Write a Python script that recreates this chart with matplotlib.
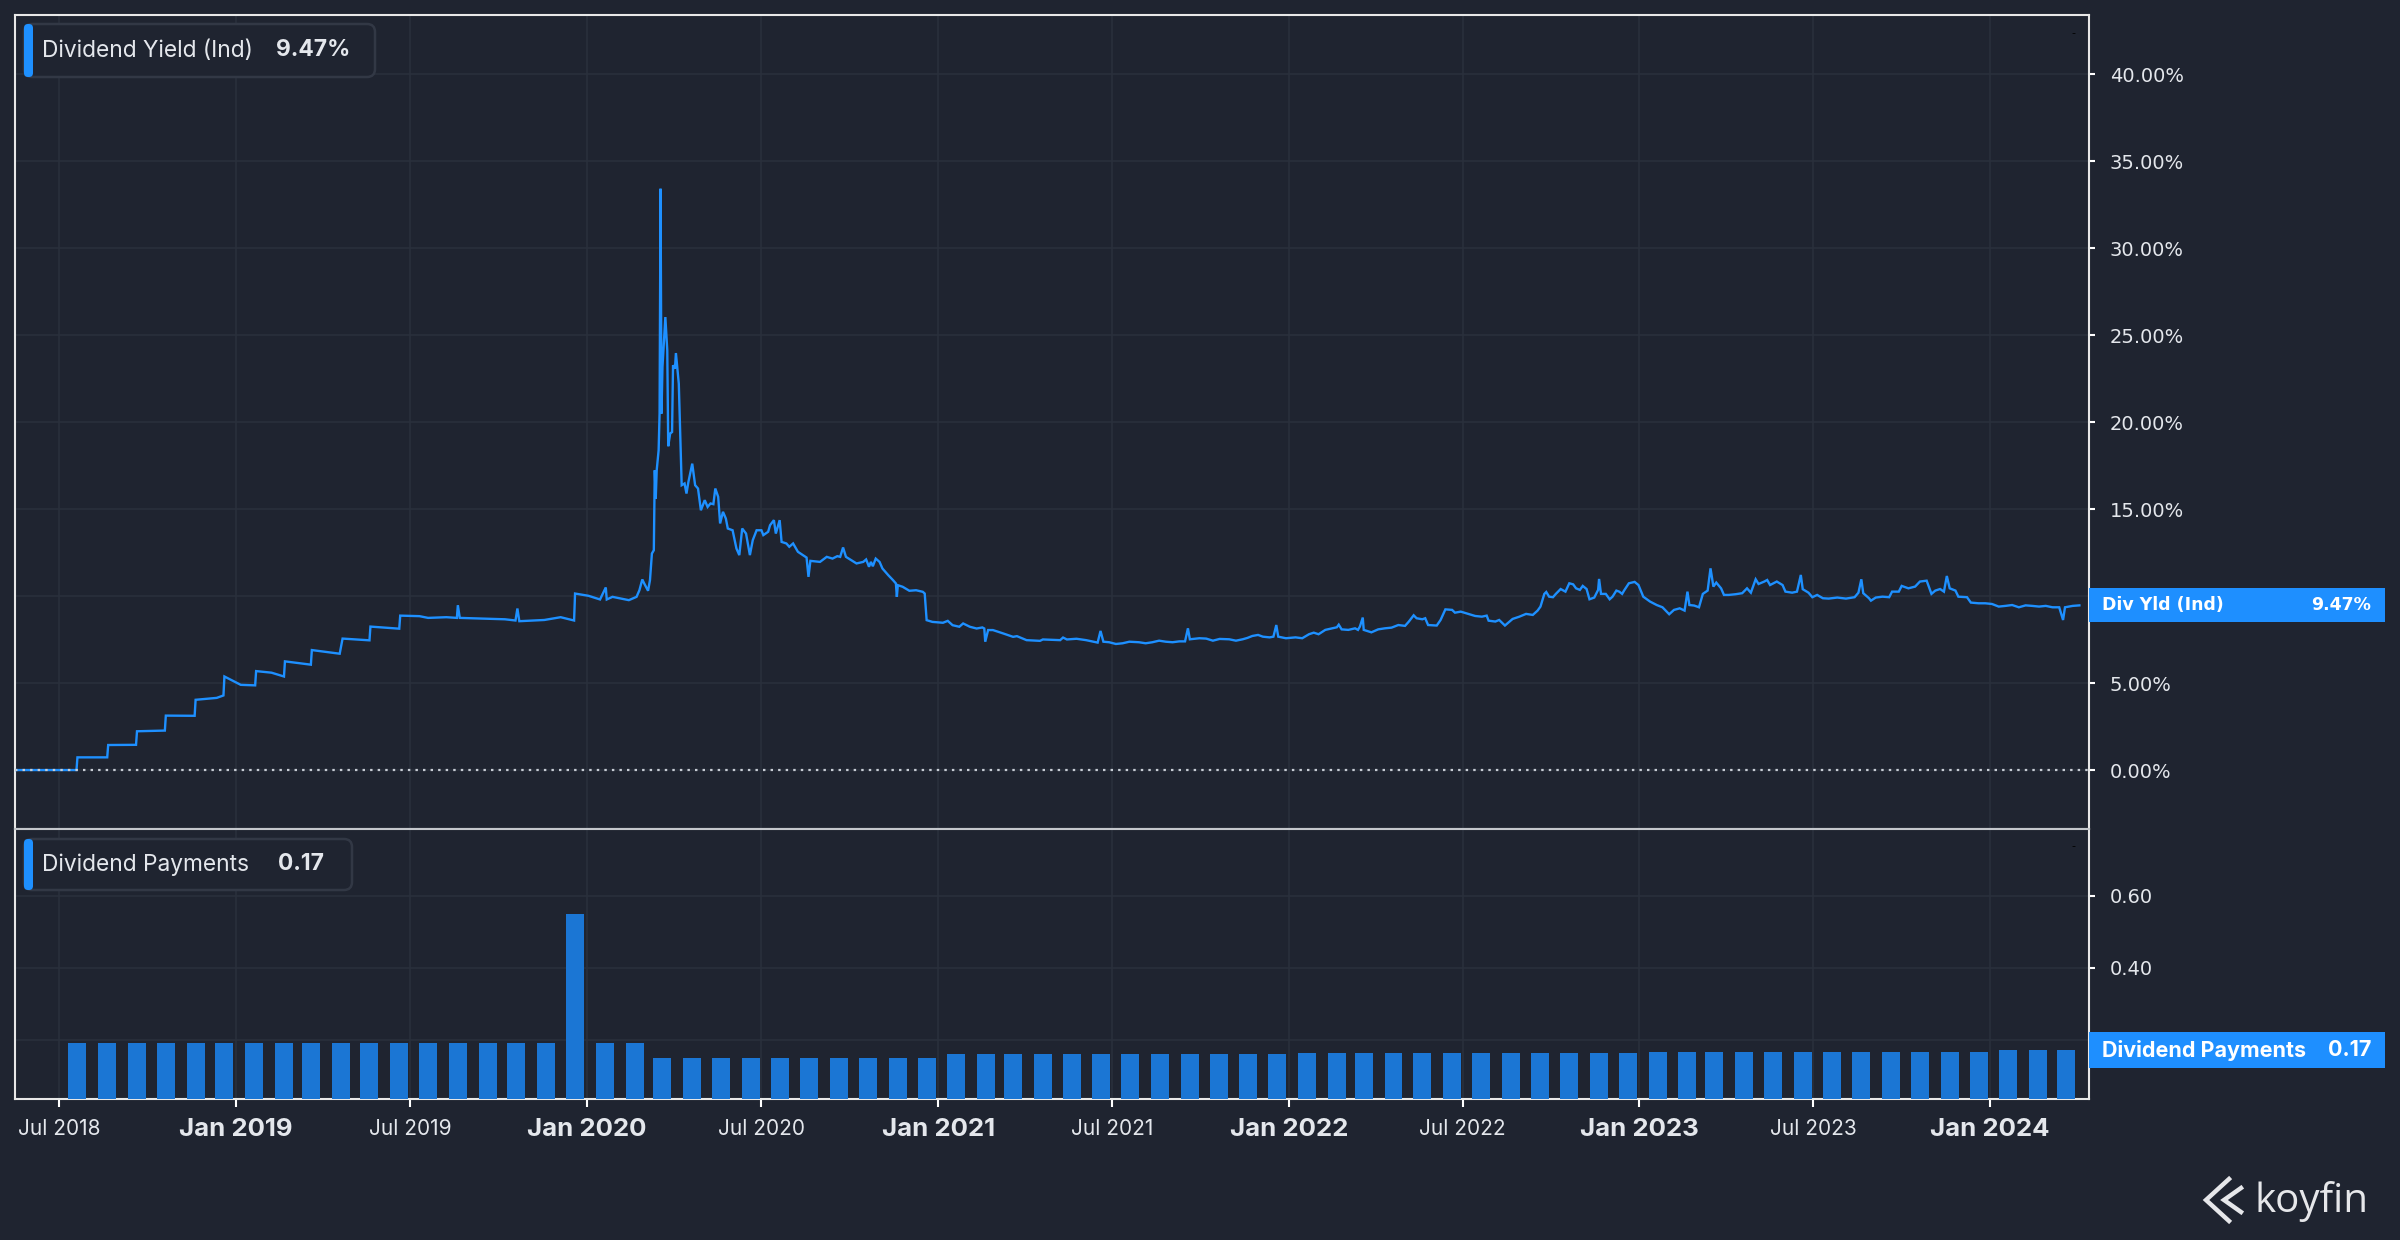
import matplotlib
matplotlib.use("Agg")
import matplotlib.pyplot as plt
import matplotlib.transforms as mtransforms
from matplotlib.patches import FancyBboxPatch, Rectangle
from matplotlib.lines import Line2D
import numpy as np
import pandas as pd

# ---------------- data ----------------
yield_dates = [
    '2018-05-16', '2018-07-19', '2018-07-20', '2018-08-20', '2018-08-21', '2018-09-19',
    '2018-09-20', '2018-10-19', '2018-10-20', '2018-11-19', '2018-11-20', '2018-12-12',
    '2018-12-19', '2018-12-20', '2019-01-06', '2019-01-21', '2019-01-22', '2019-02-07',
    '2019-02-20', '2019-02-21', '2019-03-20', '2019-03-21', '2019-04-19', '2019-04-22',
    '2019-05-20', '2019-05-21', '2019-06-20', '2019-06-21', '2019-07-11', '2019-07-20',
    '2019-08-08', '2019-08-19', '2019-08-20', '2019-08-22', '2019-09-14', '2019-10-08',
    '2019-10-19', '2019-10-21', '2019-10-23', '2019-11-18', '2019-12-05', '2019-12-19',
    '2019-12-20', '2020-01-03', '2020-01-15',
    '2020-01-21', '2020-01-22', '2020-01-28', '2020-02-14', '2020-02-22', '2020-02-25',
    '2020-02-28', '2020-03-01', '2020-03-05', '2020-03-07', '2020-03-08', '2020-03-09',
    '2020-03-11', '2020-03-12', '2020-03-13', '2020-03-14', '2020-03-16', '2020-03-17',
    '2020-03-18', '2020-03-19', '2020-03-20', '2020-03-23', '2020-03-25', '2020-03-26',
    '2020-03-28', '2020-03-30', '2020-03-31', '2020-04-02', '2020-04-03', '2020-04-06',
    '2020-04-09', '2020-04-12', '2020-04-14', '2020-04-16', '2020-04-20', '2020-04-23',
    '2020-04-26', '2020-04-29', '2020-05-03', '2020-05-06', '2020-05-09', '2020-05-12',
    '2020-05-14', '2020-05-17', '2020-05-19', '2020-05-22', '2020-05-25', '2020-05-27',
    '2020-06-01', '2020-06-05', '2020-06-08', '2020-06-11', '2020-06-15', '2020-06-19',
    '2020-06-22', '2020-06-26', '2020-07-01', '2020-07-03', '2020-07-08', '2020-07-10',
    '2020-07-14', '2020-07-16', '2020-07-20', '2020-07-22', '2020-07-27', '2020-07-30',
    '2020-08-03', '2020-08-08', '2020-08-17', '2020-08-19', '2020-08-21', '2020-08-31',
    '2020-09-07', '2020-09-13', '2020-09-18', '2020-09-21', '2020-09-24', '2020-09-27',
    '2020-10-08', '2020-10-15', '2020-10-18', '2020-10-21', '2020-10-23', '2020-10-25',
    '2020-10-28', '2020-11-01', '2020-11-04', '2020-11-10', '2020-11-15', '2020-11-18',
    '2020-11-19', '2020-11-20', '2020-11-25', '2020-12-02', '2020-12-09', '2020-12-16',
    '2020-12-18', '2020-12-20', '2020-12-26', '2021-01-06', '2021-01-11', '2021-01-16',
    '2021-01-23', '2021-01-27', '2021-02-03', '2021-02-10', '2021-02-16', '2021-02-18',
    '2021-02-19', '2021-02-22', '2021-02-27', '2021-03-10', '2021-03-20', '2021-03-24',
    '2021-04-03', '2021-04-17', '2021-04-20', '2021-05-08', '2021-05-11', '2021-05-15',
    '2021-05-25', '2021-06-04',
    '2021-06-16', '2021-06-19', '2021-06-22', '2021-06-28', '2021-07-05', '2021-07-12',
    '2021-07-19', '2021-07-29', '2021-08-05', '2021-08-12', '2021-08-19', '2021-08-26',
    '2021-09-02', '2021-09-09', '2021-09-15', '2021-09-18', '2021-09-20', '2021-09-30',
    '2021-10-07', '2021-10-14', '2021-10-21', '2021-10-31', '2021-11-07', '2021-11-14',
    '2021-11-19', '2021-11-24', '2021-11-30', '2021-12-05', '2021-12-12', '2021-12-16',
    '2021-12-19', '2021-12-21', '2021-12-29', '2022-01-08', '2022-01-15', '2022-01-22',
    '2022-01-27', '2022-02-01', '2022-02-08', '2022-02-15', '2022-02-20', '2022-02-22',
    '2022-02-25', '2022-03-04', '2022-03-11', '2022-03-14', '2022-03-16', '2022-03-19',
    '2022-03-20', '2022-03-28', '2022-04-04', '2022-04-11', '2022-04-18', '2022-04-25',
    '2022-05-02', '2022-05-06', '2022-05-11', '2022-05-14', '2022-05-20', '2022-05-23',
    '2022-05-26', '2022-06-04', '2022-06-08', '2022-06-13', '2022-06-20', '2022-06-23',
    '2022-06-29', '2022-07-07', '2022-07-14', '2022-07-21', '2022-07-26', '2022-07-28',
    '2022-08-04', '2022-08-08', '2022-08-14', '2022-08-22', '2022-08-29', '2022-09-05',
    '2022-09-12', '2022-09-17', '2022-09-20', '2022-09-24', '2022-09-26', '2022-09-29',
    '2022-10-03', '2022-10-06', '2022-10-11', '2022-10-16', '2022-10-20', '2022-10-24',
    '2022-10-27', '2022-10-31',
    '2022-11-03', '2022-11-07', '2022-11-10', '2022-11-15', '2022-11-19', '2022-11-20',
    '2022-11-22', '2022-11-27', '2022-12-01', '2022-12-04', '2022-12-08', '2022-12-11',
    '2022-12-14', '2022-12-16', '2022-12-21', '2022-12-27', '2022-12-31', '2023-01-05',
    '2023-01-12', '2023-01-19', '2023-01-25', '2023-02-01', '2023-02-06', '2023-02-12',
    '2023-02-17', '2023-02-20', '2023-02-22', '2023-02-27', '2023-03-04', '2023-03-08',
    '2023-03-13', '2023-03-16', '2023-03-19', '2023-03-22', '2023-03-27', '2023-03-30',
    '2023-04-04', '2023-04-11', '2023-04-18', '2023-04-23', '2023-04-27', '2023-05-02',
    '2023-05-05', '2023-05-11', '2023-05-14', '2023-05-17', '2023-05-24', '2023-05-30',
    '2023-06-02', '2023-06-09', '2023-06-14', '2023-06-18', '2023-06-20', '2023-06-26',
    '2023-06-30', '2023-07-05', '2023-07-11', '2023-07-17', '2023-07-26', '2023-08-04',
    '2023-08-13', '2023-08-17', '2023-08-20', '2023-08-22', '2023-08-28', '2023-08-30',
    '2023-09-04', '2023-09-11', '2023-09-18', '2023-09-21', '2023-09-28', '2023-10-01',
    '2023-10-08', '2023-10-15', '2023-10-20', '2023-10-27', '2023-11-01', '2023-11-05',
    '2023-11-10', '2023-11-14', '2023-11-17', '2023-11-20', '2023-11-26', '2023-11-29',
    '2023-12-08', '2023-12-12', '2023-12-20', '2023-12-27', '2024-01-03', '2024-01-10',
    '2024-01-17', '2024-01-24', '2024-01-31', '2024-02-07', '2024-02-14', '2024-02-21',
    '2024-02-28', '2024-03-06', '2024-03-13', '2024-03-17', '2024-03-19', '2024-03-27',
    '2024-04-03',
]
yield_values = [
    0.00, 0.00, 0.73, 0.73, 1.44, 1.45,
    2.23, 2.27, 3.13, 3.12, 4.04, 4.15,
    4.29, 5.38, 4.90, 4.87, 5.69, 5.60,
    5.38, 6.25, 6.06, 6.90, 6.69, 7.56,
    7.46, 8.25, 8.13, 8.88, 8.85, 8.75,
    8.79, 8.75, 9.48, 8.75, 8.71, 8.67,
    8.60, 9.29, 8.56, 8.63, 8.79, 8.60,
    10.15, 10.02, 9.81,
    10.50, 9.81, 9.96, 9.77, 9.96, 10.34,
    10.96, 10.73, 10.31, 10.92, 11.69, 12.45,
    12.64, 17.24, 15.61, 17.24, 18.39, 20.50,
    33.43, 20.50, 23.18, 26.05, 24.14, 18.62,
    19.35, 19.44, 23.28, 23.08, 23.98, 22.22,
    16.38, 16.48, 15.90, 16.57, 17.62, 16.38,
    16.19, 14.94, 15.52, 15.13, 15.33, 15.29,
    16.19, 15.71, 14.18, 14.85, 14.46, 13.89,
    13.79, 12.74, 12.36, 13.89, 13.60, 12.36,
    13.22, 13.79, 13.79, 13.51, 13.70, 14.08,
    14.37, 13.60, 14.37, 13.12, 13.03, 12.84,
    13.03, 12.55, 12.22, 11.11, 12.03, 11.97,
    12.26, 12.16, 12.30, 12.26, 12.80, 12.26,
    11.88, 11.97, 12.11, 11.69, 11.97, 11.72,
    12.16, 11.97, 11.59, 11.21, 10.92, 10.73,
    9.96, 10.63, 10.54, 10.31, 10.34, 10.25,
    10.15, 8.62, 8.52, 8.47, 8.58, 8.33,
    8.24, 8.43, 8.24, 8.14, 8.20, 8.14,
    7.38, 8.05, 8.05, 7.85, 7.66, 7.70,
    7.47, 7.43, 7.51, 7.47, 7.62, 7.51,
    7.55, 7.47,
    7.33, 8.00, 7.38, 7.35, 7.25, 7.29,
    7.38, 7.35, 7.29, 7.35, 7.44, 7.38,
    7.35, 7.40, 7.40, 8.15, 7.52, 7.58,
    7.56, 7.44, 7.54, 7.52, 7.44, 7.52,
    7.60, 7.71, 7.77, 7.67, 7.63, 7.67,
    8.34, 7.67, 7.58, 7.63, 7.58, 7.81,
    7.90, 7.81, 8.06, 8.15, 8.21, 8.36,
    8.09, 8.06, 8.15, 8.06, 8.25, 8.77,
    8.06, 7.92, 8.09, 8.15, 8.19, 8.34,
    8.29, 8.54, 8.90, 8.73, 8.67, 8.73,
    8.34, 8.31, 8.63, 9.24, 9.21, 9.05,
    9.11, 8.98, 8.86, 8.82, 8.88, 8.59,
    8.54, 8.63, 8.31, 8.69, 8.82, 8.98,
    8.92, 9.17, 9.40, 10.13, 10.24, 9.97,
    9.94, 10.13, 10.41, 10.26, 10.74, 10.68,
    10.45, 10.36,
    10.59, 10.41, 9.82, 9.92, 10.36, 10.99,
    10.13, 10.13, 9.82, 9.97, 10.32, 10.26,
    10.13, 10.32, 10.74, 10.82, 10.64, 9.97,
    9.69, 9.49, 9.36, 8.96, 9.21, 9.30,
    9.17, 10.26, 9.49, 9.46, 9.36, 10.13,
    10.32, 11.60, 10.55, 10.78, 10.45, 10.07,
    10.07, 10.11, 10.17, 10.45, 10.20, 10.97,
    10.70, 10.84, 10.93, 10.64, 10.84, 10.64,
    10.26, 10.20, 10.26, 11.22, 10.40, 10.20,
    9.94, 10.07, 9.88, 9.86, 9.92, 9.86,
    9.94, 10.20, 10.97, 10.17, 9.88, 9.74,
    9.92, 9.97, 9.94, 10.26, 10.26, 10.59,
    10.45, 10.55, 10.84, 10.89, 10.13, 10.32,
    10.41, 10.26, 11.16, 10.45, 10.32, 9.97,
    9.94, 9.63, 9.59, 9.59, 9.55, 9.40,
    9.44, 9.49, 9.36, 9.47, 9.44, 9.40,
    9.44, 9.36, 9.36, 8.63, 9.36, 9.44,
    9.47,
]

pay_months = (
    ['2018-%02d' % m for m in range(7, 13)] +
    ['2019-%02d' % m for m in range(1, 13)] +
    ['2020-%02d' % m for m in range(1, 13)] +
    ['2021-%02d' % m for m in range(1, 13)] +
    ['2022-%02d' % m for m in range(1, 13)] +
    ['2023-%02d' % m for m in range(1, 13)] +
    ['2024-%02d' % m for m in range(1, 4)]
)
pay_values = (
    [0.19, 0.19, 0.19, 0.19, 0.19, 0.19] +
    [0.19, 0.19, 0.19, 0.19, 0.19, 0.19, 0.19, 0.19, 0.19, 0.19, 0.19, 0.55] +
    [0.19, 0.19, 0.15, 0.15, 0.15, 0.15, 0.15, 0.15, 0.15, 0.15, 0.15, 0.15] +
    [0.16, 0.16, 0.16, 0.16, 0.16, 0.16, 0.16, 0.16, 0.16, 0.16, 0.16, 0.16] +
    [0.163, 0.163, 0.163, 0.163, 0.163, 0.163, 0.163, 0.163, 0.163, 0.163, 0.163, 0.163] +
    [0.166, 0.166, 0.166, 0.166, 0.166, 0.166, 0.166, 0.166, 0.166, 0.166, 0.166, 0.166] +
    [0.17, 0.17, 0.17]
)

tick_dates = ['2018-07-01', '2019-01-01', '2019-07-01', '2020-01-01', '2020-07-01',
              '2021-01-01', '2021-07-01', '2022-01-01', '2022-07-01', '2023-01-01',
              '2023-07-01', '2024-01-01']
tick_labels = ['Jul 2018', 'Jan 2019', 'Jul 2019', 'Jan 2020', 'Jul 2020', 'Jan 2021',
               'Jul 2021', 'Jan 2022', 'Jul 2022', 'Jan 2023', 'Jul 2023', 'Jan 2024']
yield_ticks = [0, 5, 10, 15, 20, 25, 30, 35, 40]
pay_ticks = [0.20, 0.40, 0.60]

yield_name, yield_short, yield_last = 'Dividend Yield (Ind)', 'Div Yld (Ind)', 9.47
pay_name, pay_last = 'Dividend Payments', 0.17

# ---------------- style ----------------
W, H = 2400, 1240
BG = '#1f2430'
GRID = '#2a303c'
LINE = '#1e90ff'
BAR = '#1b76d4'
TXT = '#e4e7ec'
FRAME = '#e8e8e8'
LABEL_BG = '#1e8fff'

fig = plt.figure(figsize=(W / 100, H / 100), dpi=100, facecolor=BG)
L, R, T, SEP, B = 15, 2089, 15, 829, 1099
ax1 = fig.add_axes([L / W, 1 - SEP / H, (R - L) / W, (SEP - T) / H])
ax2 = fig.add_axes([L / W, 1 - B / H, (R - L) / W, (B - SEP) / H], sharex=ax1)

yd = pd.to_datetime(yield_dates)
pdates = pd.to_datetime([m + '-20' for m in pay_months])

for ax in (ax1, ax2):
    ax.set_facecolor(BG)
    ax.grid(True, color=GRID, lw=1.1)
    ax.set_axisbelow(True)
    ax.yaxis.tick_right()
    for s in ax.spines.values():
        s.set_color(FRAME)
        s.set_linewidth(1.5)

ax1.spines['bottom'].set_color('#c4c7cc')
ax2.spines['top'].set_color('#c4c7cc')

ax1.plot(yd, yield_values, color=LINE, lw=1.7, zorder=3, solid_joinstyle='miter')
ax1.axhline(0, color='#c8cdd5', lw=1.6, ls=(0, (1.1, 2.3)), zorder=4)
ax1.set_ylim(-3.39, 43.42)
ax1.set_yticks(yield_ticks)
ax1.set_yticklabels(['%.2f%%' % v for v in yield_ticks])
ax1.tick_params(axis='y', colors='white', labelcolor=TXT, labelsize=14, length=4,
                width=1.5, pad=11)
ax1.tick_params(axis='x', bottom=False, labelbottom=False)
for lab in ax1.get_yticklabels():
    lab.set_family('DejaVu Sans')

ax2.bar(pdates, pay_values, width=18.7, color=BAR, zorder=3)
ax2.set_ylim(0.035, 0.785)
ax2.set_yticks(pay_ticks)
ax2.set_yticklabels(['%.2f' % v for v in pay_ticks])
ax2.tick_params(axis='y', colors='white', labelcolor=TXT, labelsize=14, length=4,
                width=1.5, pad=11)
ax2.set_xlim(pd.Timestamp('2018-05-16'), pd.Timestamp('2024-04-13'))
ax2.set_xticks(pd.to_datetime(tick_dates))
ax2.set_xticklabels(tick_labels)
ax2.tick_params(axis='x', colors='white', labelcolor=TXT, length=5.8, width=1.5, pad=16)
for lab in ax2.get_xticklabels():
    lab.set_family(['Inter', 'DejaVu Sans'])
    lab.set_va('center')
    if lab.get_text().startswith('Jan'):
        lab.set_fontsize(18.6)
        lab.set_fontweight('bold')
    else:
        lab.set_fontsize(15)

# ---------------- overlays (pixel coordinates) ----------------
ID = mtransforms.IdentityTransform()


def py(y):
    return H - y


def legend_box(x0, y0, x1, y1, name, value, vx):
    fig.add_artist(FancyBboxPatch((x0, py(y1)), x1 - x0, y1 - y0,
                                  boxstyle='round,pad=0,rounding_size=8',
                                  transform=ID, facecolor=BG, edgecolor='#323845',
                                  lw=1.8, zorder=5))
    fig.add_artist(FancyBboxPatch((x0, py(y1)), 9, y1 - y0,
                                  boxstyle='round,pad=0,rounding_size=4',
                                  transform=ID, facecolor=LINE, edgecolor='none',
                                  zorder=6))
    yc = py((y0 + y1) / 2)
    fig.text(42, yc, name, transform=ID, color=TXT, fontsize=16.4,
             family=['Inter', 'DejaVu Sans'], va='center', ha='left', zorder=7)
    fig.text(vx, yc, value, transform=ID, color=TXT, fontsize=16.4, fontweight='bold',
             family=['Inter', 'DejaVu Sans'], va='center', ha='left', zorder=7)


legend_box(24, 24, 375, 77, yield_name, '%.2f%%' % yield_last, 276)
legend_box(24, 839, 352, 890, pay_name, '%.2f' % pay_last, 278)


def value_label(ax, val, name, text, h, family, size):
    _, yc = ax.transData.transform((0, val))
    fig.add_artist(Rectangle((R, yc - h / 2), 2385 - R, h, transform=ID,
                             facecolor=LABEL_BG, edgecolor='none', zorder=5))
    fig.text(2102, yc, name, transform=ID, color='white', fontsize=size,
             fontweight='bold', family=family, va='center', ha='left', zorder=7)
    fig.text(2371, yc, text, transform=ID, color='white', fontsize=size,
             fontweight='bold', family=family, va='center', ha='right', zorder=7)


value_label(ax1, yield_values[-1], yield_short, '%.2f%%' % yield_last, 34,
            ['DejaVu Sans'], 12.5)
value_label(ax2, pay_values[-1], pay_name, '%.2f' % pay_last, 36,
            ['Inter', 'DejaVu Sans'], 15.5)

# tiny corner markers
fig.text(2073, py(33), '-', transform=ID, color='black', fontsize=8, ha='center', va='center')
fig.text(2073, py(846), '-', transform=ID, color='black', fontsize=8, ha='center', va='center')

# koyfin logo
LOGO = '#e6e7ea'
fig.add_artist(Line2D([2229, 2206, 2229], [py(1179), py(1200), py(1221)], transform=ID,
                      color=LOGO, lw=3.2, solid_joinstyle='miter', zorder=5))
fig.add_artist(Line2D([2241, 2224, 2241], [py(1188), py(1200), py(1212)], transform=ID,
                      color=LOGO, lw=3.2, solid_joinstyle='miter', zorder=5))
fig.text(2254, py(1212), 'koyfin', transform=ID, color=LOGO, fontsize=29,
         family=['Open Sans', 'DejaVu Sans'], va='baseline', ha='left', zorder=5)

fig.savefig('out.png', dpi=100, facecolor=BG)
